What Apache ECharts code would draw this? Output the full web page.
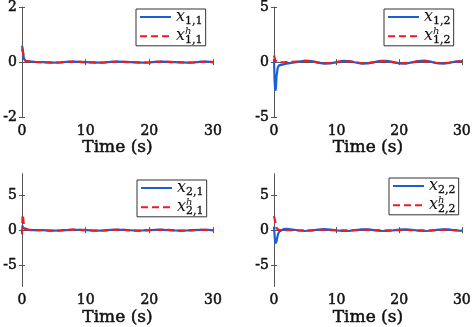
<!DOCTYPE html>
<html><head><meta charset="utf-8">
<script src="https://cdn.jsdelivr.net/npm/echarts@6/dist/echarts.min.js"></script>
<style>html,body{margin:0;padding:0;background:#fff}#c{width:474px;height:327px}</style>
</head><body><div id="c"></div>
<script>
// Time samples (s)
const time = [0,0.1,0.2,0.3,0.4,0.6,0.8,1,1.5,2,3,4,5,6,7,8,9,10,11,12,13,14,15,16,17,18,19,20,21,22,23,24,25,26,27,28,29,30];
// Series values
const x11  = [0.6,0.5,0.3,0.12,0.06,0.04,0.03,0.03,0.02,0.01,0,-0.01,-0.02,-0.01,0.01,0.02,0.01,0,-0.01,-0.02,-0.01,0.01,0.02,0.01,0,-0.01,-0.02,-0.01,0.01,0.02,0.01,0,-0.01,-0.02,-0.01,0.01,0.02,0];
const xh11 = [0.5,0.45,0.3,0.12,0.06,0.04,0.03,0.03,0.02,0.01,0,-0.01,-0.02,-0.01,0.01,0.02,0.01,0,-0.01,-0.02,-0.01,0.01,0.02,0.01,0,-0.01,-0.02,-0.01,0.01,0.02,0.01,0,-0.01,-0.02,-0.01,0.01,0.02,0];
const x12  = [0.3,-1.8,-2.6,-2.4,-1.3,-0.5,-0.3,-0.25,-0.2,-0.15,-0.05,0.05,0.13,0.1,-0.04,-0.13,-0.11,0,0.12,0.1,-0.03,-0.13,-0.12,0,0.12,0.12,0,-0.12,-0.13,-0.03,0.1,0.13,0.04,-0.1,-0.13,-0.06,0.05,0.1];
const xh12 = [0.6,0.4,0.15,0.05,0,-0.02,-0.02,-0.02,-0.01,0,0.02,0.06,0.1,0.08,-0.03,-0.1,-0.08,0,0.09,0.08,-0.02,-0.1,-0.09,0,0.09,0.09,0,-0.09,-0.1,-0.02,0.08,0.1,0.03,-0.08,-0.1,-0.05,0.04,0.08];
const x21  = [0.7,0.5,0.35,0.25,0.18,0.1,0.06,0.04,0.02,0.01,0,-0.03,-0.05,-0.03,0.02,0.05,0.03,0,-0.04,-0.05,-0.02,0.03,0.05,0.03,-0.01,-0.05,-0.04,0,0.04,0.05,0.02,-0.03,-0.05,-0.03,0.01,0.04,0.03,0];
const xh21 = [-0.6,2.2,1.6,0.6,0.35,0.2,0.15,0.1,0.05,0.02,0,-0.05,-0.08,-0.05,0.03,0.08,0.05,0,-0.06,-0.08,-0.03,0.05,0.08,0.05,-0.02,-0.08,-0.06,0,0.06,0.08,0.03,-0.05,-0.08,-0.05,0.02,0.06,0.05,0];
const x22  = [0.5,-0.8,-1.9,-2.1,-1.6,-0.7,-0.25,0.0,0.15,0.2,0.1,-0.05,-0.12,-0.05,0.08,0.14,0.08,-0.04,-0.12,-0.1,0.02,0.12,0.12,0,-0.1,-0.12,-0.03,0.09,0.13,0.06,-0.06,-0.12,-0.08,0.04,0.12,0.1,-0.02,-0.1];
const xh22 = [2.0,1.8,1.2,0.7,0.3,0.1,0.02,0,0,0,0,-0.02,-0.04,-0.02,0.02,0.04,0.02,0,-0.03,-0.04,-0.01,0.03,0.04,0.01,-0.02,-0.04,-0.02,0.02,0.04,0.02,-0.01,-0.04,-0.03,0.01,0.04,0.03,0,-0.03];
// Tick values
const xTicks = [0,10,20,30];
const yTicksTop1 = [-2,0,2];
const yTicksTop2 = [-5,0,5];
const yTicksBottom = [-5,0,5];

const BLUE = '#1a5fd8', RED = '#ec1c24', AX = '#555', TXT = '#111';
const FONT = "'DejaVu Serif','Liberation Serif',serif";
const thick = {textBorderColor:TXT, textBorderWidth:0.5};
const grids = [
  {left:22, top:5, width:191, height:112, ymin:-2, ymax:2, yt:yTicksTop1, s:[['x11',x11],['xh11',xh11]], leg:{left:136, top:9}},
  {left:274, top:5, width:192, height:112, ymin:-5, ymax:5, yt:yTicksTop2, s:[['x12',x12],['xh12',xh12]], leg:{left:384, top:9}},
  {left:22, top:174, width:191, height:113, ymin:-8, ymax:8, yt:yTicksBottom, s:[['x21',x21],['xh21',xh21]], leg:{left:137, top:180}},
  {left:274, top:174, width:192, height:113, ymin:-8, ymax:8, yt:yTicksBottom, s:[['x22',x22],['xh22',xh22]], leg:{left:389, top:178}}
];
const legendText = {
  x11:'{x|x}{sub|1,1}', xh11:'{x|x}{sup|h}{sub|1,1}',
  x12:'{x|x}{sub|1,2}', xh12:'{x|x}{sup|h}{sub|1,2}',
  x21:'{x|x}{sub|2,1}', xh21:'{x|x}{sup|h}{sub|2,1}',
  x22:'{x|x}{sub|2,2}', xh22:'{x|x}{sup|h}{sub|2,2}'
};
const option = {animation:false, backgroundColor:'#fff', grid:[], xAxis:[], yAxis:[], series:[], legend:[]};
grids.forEach((g,i)=>{
  option.grid.push({left:g.left, top:g.top, width:g.width, height:g.height, show:false});
  const line = {show:true, lineStyle:{color:AX, width:1}};
  const tick = {show:true, inside:true, length:3, lineStyle:{color:AX}};
  option.xAxis.push({type:'value', gridIndex:i, position:'bottom', min:0, max:30, interval:10,
    axisLine:line, axisTick:tick, splitLine:{show:false},
    axisLabel:Object.assign({color:TXT, fontFamily:FONT, fontSize:14, margin:7, customValues:xTicks}, thick),
    name:'Time (s)', nameLocation:'middle', nameGap:21,
    nameTextStyle:Object.assign({color:TXT, fontFamily:FONT, fontSize:17, verticalAlign:'top'}, thick)});
  option.xAxis.push({type:'value', gridIndex:i, position:'top', min:0, max:30, interval:10,
    axisLine:line, axisTick:tick, axisLabel:{show:false}, splitLine:{show:false}});
  option.yAxis.push({type:'value', gridIndex:i, position:'left', min:g.ymin, max:g.ymax,
    axisLine:line, axisTick:Object.assign({customValues:g.yt}, tick), splitLine:{show:false},
    axisLabel:Object.assign({color:TXT, fontFamily:FONT, fontSize:14, margin:5, customValues:g.yt}, thick)});
  option.yAxis.push({type:'value', gridIndex:i, position:'right', min:g.ymin, max:g.ymax,
    axisLine:line, axisTick:Object.assign({customValues:g.yt}, tick), axisLabel:{show:false}, splitLine:{show:false}});
  g.s.forEach(([name,vals],k)=>{
    option.series.push({name:name, type:'line', xAxisIndex:2*i, yAxisIndex:2*i, symbol:'none', showSymbol:false,
      data: time.map((t,j)=>[t, vals[j]]), z: 2+k,
      lineStyle: k===0 ? {color:BLUE, width:2.2} : {color:RED, width:2.2, type:[7,4]},
      itemStyle:{color: k===0?BLUE:RED}});
  });
  option.legend.push({data:g.s.map(s=>s[0]), orient:'vertical', left:g.leg.left, top:g.leg.top,
    backgroundColor:'#fff', borderColor:'#333', borderWidth:1, padding:[0,3,0,3], itemGap:0,
    itemWidth:31, itemHeight:18, itemStyle:{opacity:0},
    formatter: n=>legendText[n],
    textStyle:{color:TXT, rich:{
      x:{fontFamily:FONT, fontStyle:'italic', fontSize:16, lineHeight:19, verticalAlign:'middle'},
      sup:{fontFamily:FONT, fontStyle:'italic', fontSize:10, lineHeight:8, verticalAlign:'top', width:0},
      sub:{fontFamily:FONT, fontSize:11, lineHeight:8, verticalAlign:'bottom', textBorderColor:TXT, textBorderWidth:0.3}
    }}});
});
const chart = echarts.init(document.getElementById('c'), null, {renderer:'canvas'});
chart.setOption(option);
</script></body></html>
